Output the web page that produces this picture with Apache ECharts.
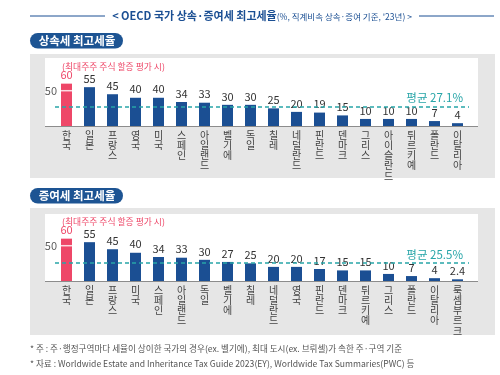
<!DOCTYPE html>
<html><head><meta charset="utf-8">
<script src="https://cdn.jsdelivr.net/npm/echarts@6/dist/echarts.min.js"></script>
<style>html,body{margin:0;padding:0;background:#fff}#c{width:500px;height:375px}</style>
</head><body><div id="c"></div>
<script>
const countries1 = ['한국','일본','프랑스','영국','미국','스페인','아일랜드','벨기에','독일','칠레','네덜란드','핀란드','덴마크','그리스','아이슬란드','튀르키예','폴란드','이탈리아'];
const inheritance = [60,55,45,40,40,34,33,30,30,25,20,19,15,10,10,10,7,4];
const countries2 = ['한국','일본','프랑스','미국','스페인','아일랜드','독일','벨기에','칠레','네덜란드','영국','핀란드','덴마크','튀르키예','그리스','폴란드','이탈리아','룩셈부르크'];
const gift = [60,55,45,40,34,33,30,27,25,20,20,17,15,15,10,7,4,2.4];
const averages = [27.1, 25.5];
const koreaBase = [50, 50];
const sectionTitles = ['상속세 최고세율', '증여세 최고세율'];
const noteText = '(최대주주 주식 할증 평가 시)';

const FONT = '"Noto Sans CJK KR", "Noto Sans", sans-serif';
const BLUE = '#1b4f93', PINK = '#ee4768', TEAL = '#27a5a8';

const chart = echarts.init(document.getElementById('c'));

function barData(vals) {
  return vals.map((v, i) => ({
    value: v,
    itemStyle: { color: i === 0 ? PINK : BLUE },
    label: i === 0 ? { color: PINK } : undefined
  }));
}

const grids = [
  { left: 55, width: 414, top: 66, height: 60 },
  { left: 55, width: 414, top: 221, height: 60 }
];

const xAxes = [countries1, countries2].map((cats, gi) => ({
  type: 'category', gridIndex: gi, data: cats,
  axisLine: { show: false }, axisTick: { show: false },
  axisLabel: {
    interval: 0, margin: 4, fontFamily: FONT, fontSize: 10, lineHeight: 10.2,
    color: '#444', verticalAlign: 'top',
    formatter: v => v.split('').join('\n')
  }
}));
const yAxes = [0, 1].map(gi => ({
  type: 'value', gridIndex: gi, min: 0, max: 85, show: false
}));

const series = [];
[inheritance, gift].forEach((vals, gi) => {
  series.push({
    type: 'bar', xAxisIndex: gi, yAxisIndex: gi, barWidth: 11,
    data: barData(vals),
    label: { show: true, position: 'top', distance: 3, fontFamily: FONT, fontSize: 11, color: '#333' },
    markLine: {
      silent: true, symbol: 'none',
      lineStyle: { color: TEAL, type: [4, 3], width: 1.5 },
      label: {
        position: 'insideEndTop', distance: [6, 3], fontFamily: FONT, fontSize: 11.5,
        color: TEAL, formatter: '평균 ' + averages[gi] + '%'
      },
      data: [{ yAxis: averages[gi] }]
    },
    z: 3
  });
  series.push({
    type: 'scatter', xAxisIndex: gi, yAxisIndex: gi,
    symbol: 'rect', symbolSize: [11, 1.5],
    itemStyle: { color: '#fff' },
    label: { show: true, position: 'left', distance: 4, fontFamily: FONT, fontSize: 11, color: '#333', formatter: '{@[1]}' },
    data: [[0, koreaBase[gi]]], z: 5, silent: true
  });
});

const graphic = [
  { type: 'line', shape: { x1: 30, y1: 16, x2: 105, y2: 16 }, style: { stroke: BLUE, lineWidth: 1 } },
  { type: 'line', shape: { x1: 419, y1: 16, x2: 494, y2: 16 }, style: { stroke: BLUE, lineWidth: 1 } },
  { type: 'text', x: 262, y: 16, style: {
      text: '{a|< OECD 국가 상속·증여세 최고세율}{b|(%, 직계비속 상속·증여 기준, \'23년) >}',
      align: 'center', verticalAlign: 'middle',
      rich: {
        a: { fontFamily: FONT, fontSize: 11, fontWeight: 'bold', fill: BLUE },
        b: { fontFamily: FONT, fontSize: 8.5, fill: BLUE, padding: [2, 0, 0, 0] }
      }
  } }
];
const panels = [
  { pillY: 33, panelY: 54, panelH: 124, whiteY: 58, axisY: 126, noteY: 67 },
  { pillY: 188, panelY: 208, panelH: 127, whiteY: 214, axisY: 281, noteY: 222 }
];
panels.forEach((p, i) => {
  graphic.push(
    { type: 'rect', z: -10, shape: { x: 30, y: p.panelY, width: 465, height: p.panelH }, style: { fill: '#e6e6e6' } },
    { type: 'rect', z: -9, shape: { x: 45, y: p.whiteY, width: 433, height: p.axisY - p.whiteY }, style: { fill: '#fff' } },
    { type: 'line', z: 10, shape: { x1: 45, y1: p.axisY + 0.5, x2: 478, y2: p.axisY + 0.5 }, style: { stroke: '#8c8c8c', lineWidth: 1 } },
    { type: 'rect', shape: { x: 30, y: p.pillY, width: 93, height: 15.5, r: 8 }, style: { fill: '#1d5493' } },
    { type: 'text', x: 77, y: p.pillY + 8, style: { text: sectionTitles[i], align: 'center', verticalAlign: 'middle', fontFamily: FONT, fontSize: 11.5, fontWeight: 'bold', fill: '#fff' } },
    { type: 'text', x: 62, y: p.noteY, style: { text: noteText, align: 'left', verticalAlign: 'middle', fontFamily: FONT, fontSize: 8.8, fill: PINK } }
  );
});
graphic.push(
  { type: 'text', x: 30, y: 349, style: { text: '* 주 : 주·행정구역마다 세율이 상이한 국가의 경우(ex. 벨기에), 최대 도시(ex. 브뤼셀)가 속한 주·구역 기준', verticalAlign: 'middle', fontFamily: FONT, fontSize: 8.6, fill: '#555' } },
  { type: 'text', x: 30, y: 364, style: { text: '* 자료 : Worldwide Estate and Inheritance Tax Guide 2023(EY), Worldwide Tax Summaries(PWC) 등', verticalAlign: 'middle', fontFamily: FONT, fontSize: 8.6, fill: '#555' } }
);

chart.setOption({
  animation: false,
  backgroundColor: '#fff',
  grid: grids,
  xAxis: xAxes,
  yAxis: yAxes,
  series: series,
  graphic: graphic
});
</script></body></html>
